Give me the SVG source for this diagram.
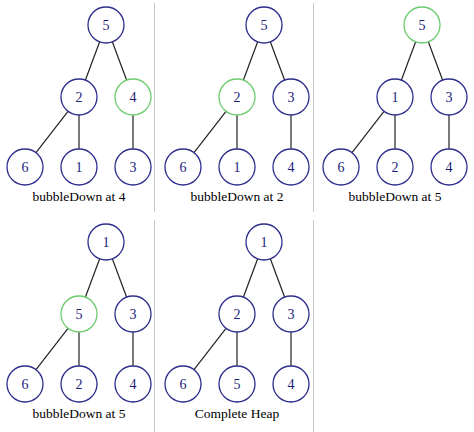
<svg xmlns="http://www.w3.org/2000/svg" width="474" height="432" viewBox="0 0 474 432">
<style>
.n circle{fill:#fff;stroke:#2e2e8c;stroke-width:1.3}
.n.hl circle{stroke:#6ccc6c}
.n text{font-family:"Liberation Serif",serif;font-size:14px;fill:#1c1c7a;text-anchor:middle}
.e line{stroke:#222;stroke-width:1.2}
.lbl{font-family:"Liberation Serif",serif;font-size:13.5px;fill:#000;text-anchor:middle}
.div{stroke:#c8c8c8;stroke-width:1}
</style>
<rect width="474" height="432" fill="#fff"/>
<g id="dividers">
<line class="div" x1="154.5" y1="3" x2="154.5" y2="212"/>
<line class="div" x1="313.5" y1="3" x2="313.5" y2="212"/>
<line class="div" x1="154.5" y1="220" x2="154.5" y2="432"/>
<line class="div" x1="313.5" y1="220" x2="313.5" y2="432"/>
</g>
<g id="panel1">
<g class="e" id="p1-edges"><line x1="99.7" y1="41.8" x2="85.3" y2="80.2"/><line x1="112.3" y1="41.8" x2="126.7" y2="80.2"/><line x1="68" y1="111.3" x2="36" y2="152.7"/><line x1="79" y1="115" x2="79" y2="149"/><line x1="133" y1="115" x2="133" y2="149"/></g>
<g class="n" id="p1-root"><circle cx="106" cy="25" r="18"/><text x="106" y="30">5</text></g>
<g class="n" id="p1-l"><circle cx="79" cy="97" r="18"/><text x="79" y="102">2</text></g>
<g class="n hl" id="p1-r"><circle cx="133" cy="97" r="18"/><text x="133" y="102">4</text></g>
<g class="n" id="p1-ll"><circle cx="25" cy="167" r="18"/><text x="25" y="172">6</text></g>
<g class="n" id="p1-lr"><circle cx="79" cy="167" r="18"/><text x="79" y="172">1</text></g>
<g class="n" id="p1-rl"><circle cx="133" cy="167" r="18"/><text x="133" y="172">3</text></g>
<text class="lbl" x="79" y="201">bubbleDown at 4</text>
</g>
<g id="panel2" transform="translate(158,0)">
<g class="e" id="p2-edges"><line x1="99.7" y1="41.8" x2="85.3" y2="80.2"/><line x1="112.3" y1="41.8" x2="126.7" y2="80.2"/><line x1="68" y1="111.3" x2="36" y2="152.7"/><line x1="79" y1="115" x2="79" y2="149"/><line x1="133" y1="115" x2="133" y2="149"/></g>
<g class="n" id="p2-root"><circle cx="106" cy="25" r="18"/><text x="106" y="30">5</text></g>
<g class="n hl" id="p2-l"><circle cx="79" cy="97" r="18"/><text x="79" y="102">2</text></g>
<g class="n" id="p2-r"><circle cx="133" cy="97" r="18"/><text x="133" y="102">3</text></g>
<g class="n" id="p2-ll"><circle cx="25" cy="167" r="18"/><text x="25" y="172">6</text></g>
<g class="n" id="p2-lr"><circle cx="79" cy="167" r="18"/><text x="79" y="172">1</text></g>
<g class="n" id="p2-rl"><circle cx="133" cy="167" r="18"/><text x="133" y="172">4</text></g>
<text class="lbl" x="79" y="201">bubbleDown at 2</text>
</g>
<g id="panel3" transform="translate(316,0)">
<g class="e" id="p3-edges"><line x1="99.7" y1="41.8" x2="85.3" y2="80.2"/><line x1="112.3" y1="41.8" x2="126.7" y2="80.2"/><line x1="68" y1="111.3" x2="36" y2="152.7"/><line x1="79" y1="115" x2="79" y2="149"/><line x1="133" y1="115" x2="133" y2="149"/></g>
<g class="n hl" id="p3-root"><circle cx="106" cy="25" r="18"/><text x="106" y="30">5</text></g>
<g class="n" id="p3-l"><circle cx="79" cy="97" r="18"/><text x="79" y="102">1</text></g>
<g class="n" id="p3-r"><circle cx="133" cy="97" r="18"/><text x="133" y="102">3</text></g>
<g class="n" id="p3-ll"><circle cx="25" cy="167" r="18"/><text x="25" y="172">6</text></g>
<g class="n" id="p3-lr"><circle cx="79" cy="167" r="18"/><text x="79" y="172">2</text></g>
<g class="n" id="p3-rl"><circle cx="133" cy="167" r="18"/><text x="133" y="172">4</text></g>
<text class="lbl" x="79" y="201">bubbleDown at 5</text>
</g>
<g id="panel4" transform="translate(0,217)">
<g class="e" id="p4-edges"><line x1="99.7" y1="41.8" x2="85.3" y2="80.2"/><line x1="112.3" y1="41.8" x2="126.7" y2="80.2"/><line x1="68" y1="111.3" x2="36" y2="152.7"/><line x1="79" y1="115" x2="79" y2="149"/><line x1="133" y1="115" x2="133" y2="149"/></g>
<g class="n" id="p4-root"><circle cx="106" cy="25" r="18"/><text x="106" y="30">1</text></g>
<g class="n hl" id="p4-l"><circle cx="79" cy="97" r="18"/><text x="79" y="102">5</text></g>
<g class="n" id="p4-r"><circle cx="133" cy="97" r="18"/><text x="133" y="102">3</text></g>
<g class="n" id="p4-ll"><circle cx="25" cy="167" r="18"/><text x="25" y="172">6</text></g>
<g class="n" id="p4-lr"><circle cx="79" cy="167" r="18"/><text x="79" y="172">2</text></g>
<g class="n" id="p4-rl"><circle cx="133" cy="167" r="18"/><text x="133" y="172">4</text></g>
<text class="lbl" x="79" y="201">bubbleDown at 5</text>
</g>
<g id="panel5" transform="translate(158,217)">
<g class="e" id="p5-edges"><line x1="99.7" y1="41.8" x2="85.3" y2="80.2"/><line x1="112.3" y1="41.8" x2="126.7" y2="80.2"/><line x1="68" y1="111.3" x2="36" y2="152.7"/><line x1="79" y1="115" x2="79" y2="149"/><line x1="133" y1="115" x2="133" y2="149"/></g>
<g class="n" id="p5-root"><circle cx="106" cy="25" r="18"/><text x="106" y="30">1</text></g>
<g class="n" id="p5-l"><circle cx="79" cy="97" r="18"/><text x="79" y="102">2</text></g>
<g class="n" id="p5-r"><circle cx="133" cy="97" r="18"/><text x="133" y="102">3</text></g>
<g class="n" id="p5-ll"><circle cx="25" cy="167" r="18"/><text x="25" y="172">6</text></g>
<g class="n" id="p5-lr"><circle cx="79" cy="167" r="18"/><text x="79" y="172">5</text></g>
<g class="n" id="p5-rl"><circle cx="133" cy="167" r="18"/><text x="133" y="172">4</text></g>
<text class="lbl" x="79" y="201">Complete Heap</text>
</g>
</svg>
